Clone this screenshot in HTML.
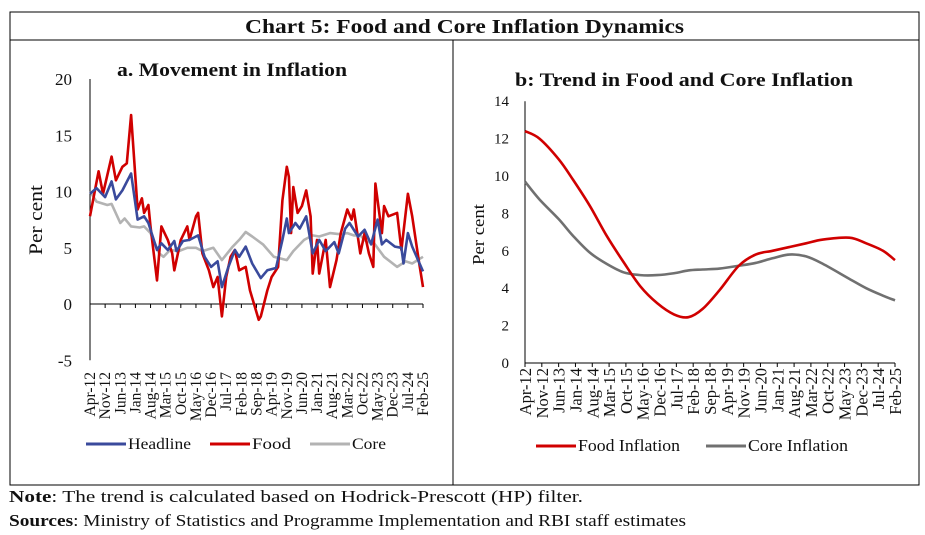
<!DOCTYPE html>
<html><head><meta charset="utf-8"><style>
body{margin:0;background:#fff;width:925px;height:535px;overflow:hidden;font-family:"Liberation Serif",serif}
svg{display:block}
text{font-family:"Liberation Serif",serif;fill:#111}
</style></head><body>
<svg id="s" width="925" height="535">
<rect x="10" y="12" width="909" height="473" fill="none" stroke="#000" stroke-width="1"/>
<line x1="10" y1="40" x2="919" y2="40" stroke="#000"/>
<line x1="453" y1="40" x2="453" y2="485" stroke="#000"/>
<text x="245" y="33" font-size="20" font-weight="bold" textLength="439" lengthAdjust="spacingAndGlyphs">Chart 5: Food and Core Inflation Dynamics</text>
<text x="117" y="76" font-size="19" font-weight="bold" textLength="230" lengthAdjust="spacingAndGlyphs">a. Movement in Inflation</text>
<text x="515" y="86" font-size="19" font-weight="bold" textLength="338" lengthAdjust="spacingAndGlyphs">b: Trend in Food and Core Inflation</text>
<text transform="translate(42,255) rotate(-90)" font-size="19" textLength="70" lengthAdjust="spacingAndGlyphs">Per cent</text>
<text transform="translate(484,265) rotate(-90)" font-size="17" textLength="61" lengthAdjust="spacingAndGlyphs">Per cent</text>
<text x="9" y="502" font-size="16.5" textLength="574" lengthAdjust="spacingAndGlyphs"><tspan font-weight="bold">Note</tspan>: The trend is calculated based on Hodrick-Prescott (HP) filter.</text>
<text x="9" y="526" font-size="16.5" textLength="677" lengthAdjust="spacingAndGlyphs"><tspan font-weight="bold">Sources</tspan>: Ministry of Statistics and Programme Implementation and RBI staff estimates</text>
<g id="L"></g><g id="R"></g>
</svg>
<script>
const tickLabels=["Apr-12","Nov-12","Jun-13","Jan-14","Aug-14","Mar-15","Oct-15","May-16","Dec-16","Jul-17","Feb-18","Sep-18","Apr-19","Nov-19","Jun-20","Jan-21","Aug-21","Mar-22","Oct-22","May-23","Dec-23","Jul-24","Feb-25"];
const leftYTicks=[20,15,10,5,0,-5];
const rightYTicks=[14,12,10,8,6,4,2,0];
const foodM=[0,4,6,10,12,15,17,19,22,24,25,27,28,31,33,36,38,39,42,45,46,49,50,52,55,57,59,61,63,65,67,69,72,74,78,79,82,84,87,89,91,92,93,94,96,98,100,102,103,105,106,109,111,114,116,119,121,122,125,127,129,131,132,135,136,138,142,144,147,149,152,154];
const foodV=[7.8,11.8,9.8,13.1,11.0,12.2,12.5,16.8,8.4,9.4,8.1,8.8,6.9,2.1,6.9,5.7,4.5,3.0,5.7,6.9,5.7,7.8,8.1,4.5,3.0,1.5,2.4,-1.1,2.4,4.2,4.8,3.0,3.3,1.2,-1.4,-1.1,1.2,2.4,3.3,9.2,12.2,11.3,6.3,10.4,8.1,8.7,10.1,7.8,2.7,5.7,2.7,5.7,1.5,3.9,6.3,8.4,7.5,8.4,4.5,6.3,4.5,3.3,10.7,6.3,8.7,7.8,8.1,4.8,9.8,7.8,3.9,1.5];
const headM=[0,3,7,10,12,15,19,22,25,27,31,33,36,39,40,43,46,50,53,56,59,61,64,67,69,72,75,79,82,86,89,91,92,95,97,100,103,106,109,113,115,118,120,124,127,130,133,135,137,141,144,145,147,149,154];
const headV=[9.8,10.3,9.5,10.9,9.3,10.1,11.6,7.5,7.8,7.2,4.8,5.4,4.8,5.6,4.7,5.6,5.7,6.1,4.2,3.3,3.8,1.5,3.3,4.8,4.2,5.1,3.6,2.3,3.0,3.2,5.7,7.6,6.3,7.2,6.7,7.8,4.5,5.7,4.7,5.5,4.5,6.7,7.2,6.0,6.6,5.3,7.5,5.3,5.7,5.1,5.0,3.6,6.3,5.1,2.9];
const coreM=[0,3,8,10,14,16,19,23,25,28,32,34,37,41,45,49,52,57,61,66,69,72,75,80,85,91,94,99,103,106,111,116,119,122,125,128,131,136,142,146,149,154];
const coreV=[10.0,9.1,8.8,8.9,7.2,7.6,6.9,6.8,6.9,6.3,4.5,4.2,4.8,4.7,5.0,5.0,4.7,5.0,3.9,5.1,5.7,6.4,6.0,5.3,4.2,3.9,4.7,5.7,6.1,6.0,6.3,6.2,6.3,6.1,6.1,5.5,5.5,4.2,3.3,3.8,3.6,4.2];
const trendM=[0,6,14,20,27,34,41,48,55,62,68,74,81,89,96,103,110,117,124,135,142,149,154];
const trendFood=[12.4,12.0,10.9,9.8,8.4,6.8,5.4,4.1,3.2,2.6,2.45,2.9,3.9,5.2,5.8,6.0,6.2,6.4,6.6,6.7,6.4,6.0,5.5];
const trendCore=[9.7,8.75,7.7,6.8,5.9,5.3,4.85,4.7,4.7,4.8,4.95,5.0,5.05,5.2,5.35,5.6,5.8,5.7,5.3,4.5,4.0,3.6,3.35];
const NS="http://www.w3.org/2000/svg";
function mk(p,tag,attrs){const e=document.createElementNS(NS,tag);for(const k in attrs)e.setAttribute(k,attrs[k]);p.appendChild(e);return e;}
function linePath(ms,vs,xf,yf){return ms.map((m,i)=>(i?"L":"M")+xf(m).toFixed(1)+","+yf(vs[i]).toFixed(1)).join("");}
function smoothPath(ms,vs,xf,yf){const p=ms.map((m,i)=>[xf(m),yf(vs[i])]);let d="M"+p[0][0]+","+p[0][1];for(let i=0;i<p.length-1;i++){const a=p[i-1]||p[i],b=p[i],c=p[i+1],e=p[i+2]||c;d+="C"+(b[0]+(c[0]-a[0])/6)+","+(b[1]+(c[1]-a[1])/6)+" "+(c[0]-(e[0]-b[0])/6)+","+(c[1]-(e[1]-b[1])/6)+" "+c[0]+","+c[1];}return d;}
// Left panel
const L=document.getElementById('L');
const lx=m=>90+m*(333/154), ly=v=>304-v*11.25;
leftYTicks.forEach(v=>{const t=mk(L,'text',{x:72,y:ly(v)+6,'text-anchor':'end','font-size':17});t.textContent=v;

});
let ax=mk(L,'line',{x1:90,y1:ly(20),x2:90,y2:ly(-5),stroke:'#000'});


ax=mk(L,'line',{x1:90,y1:ly(0),x2:lx(154),y2:ly(0),stroke:'#000'});


tickLabels.forEach((s,i)=>{const x=lx(i*7);const tk=mk(L,'line',{x1:x,y1:ly(0),x2:x,y2:ly(0)+4,stroke:'#000'});


const t=mk(L,'text',{transform:`translate(${x+5},372) rotate(-90)`,'text-anchor':'end','font-size':15.5});t.textContent=s;

});
[[coreM,coreV,'#b3b3b3','core-line'],[foodM,foodV,'#d00000','food-line'],[headM,headV,'#3a4a9c','headline-line']].forEach(([m,v,c,n])=>{const p=mk(L,'path',{d:linePath(m,v,lx,ly),fill:'none',stroke:c,'stroke-width':2.6,'stroke-linejoin':'round'});

});
[['Headline','#3a4a9c',86,63],['Food','#d00000',210,39],['Core','#b3b3b3',310,34]].forEach(([s,c,x,w])=>{const g=mk(L,'g',{});


mk(g,'line',{x1:x,y1:444,x2:x+40,y2:444,stroke:c,'stroke-width':3});const t=mk(g,'text',{x:x+42,y:449,'font-size':16,textLength:w,lengthAdjust:'spacingAndGlyphs'});t.textContent=s;});
// Right panel
const R=document.getElementById('R');
const rx=m=>525+m*(370/154), ry=v=>363-v*18.7;
rightYTicks.forEach(v=>{const t=mk(R,'text',{x:509,y:ry(v)+5,'text-anchor':'end','font-size':15});t.textContent=v;

});
ax=mk(R,'line',{x1:525,y1:ry(14),x2:525,y2:ry(0),stroke:'#000'});


ax=mk(R,'line',{x1:525,y1:ry(0),x2:rx(154),y2:ry(0),stroke:'#000'});


tickLabels.forEach((s,i)=>{const x=rx(i*7);const tk=mk(R,'line',{x1:x,y1:ry(0),x2:x,y2:ry(0)+4,stroke:'#000'});


const t=mk(R,'text',{transform:`translate(${x+6},368) rotate(-90)`,'text-anchor':'end','font-size':16.5});t.textContent=s;

});
[[trendCore,'#707070','core-trend-line'],[trendFood,'#d00000','food-trend-line']].forEach(([v,c,n])=>{const p=mk(R,'path',{d:smoothPath(trendM,v,rx,ry),fill:'none',stroke:c,'stroke-width':2.6});

});
[['Food Inflation','#d00000',536,102],['Core Inflation','#707070',706,100]].forEach(([s,c,x,w])=>{const g=mk(R,'g',{});


mk(g,'line',{x1:x,y1:446,x2:x+40,y2:446,stroke:c,'stroke-width':3});const t=mk(g,'text',{x:x+42,y:451,'font-size':17,textLength:w,lengthAdjust:'spacingAndGlyphs'});t.textContent=s;});
</script>
</body></html>
